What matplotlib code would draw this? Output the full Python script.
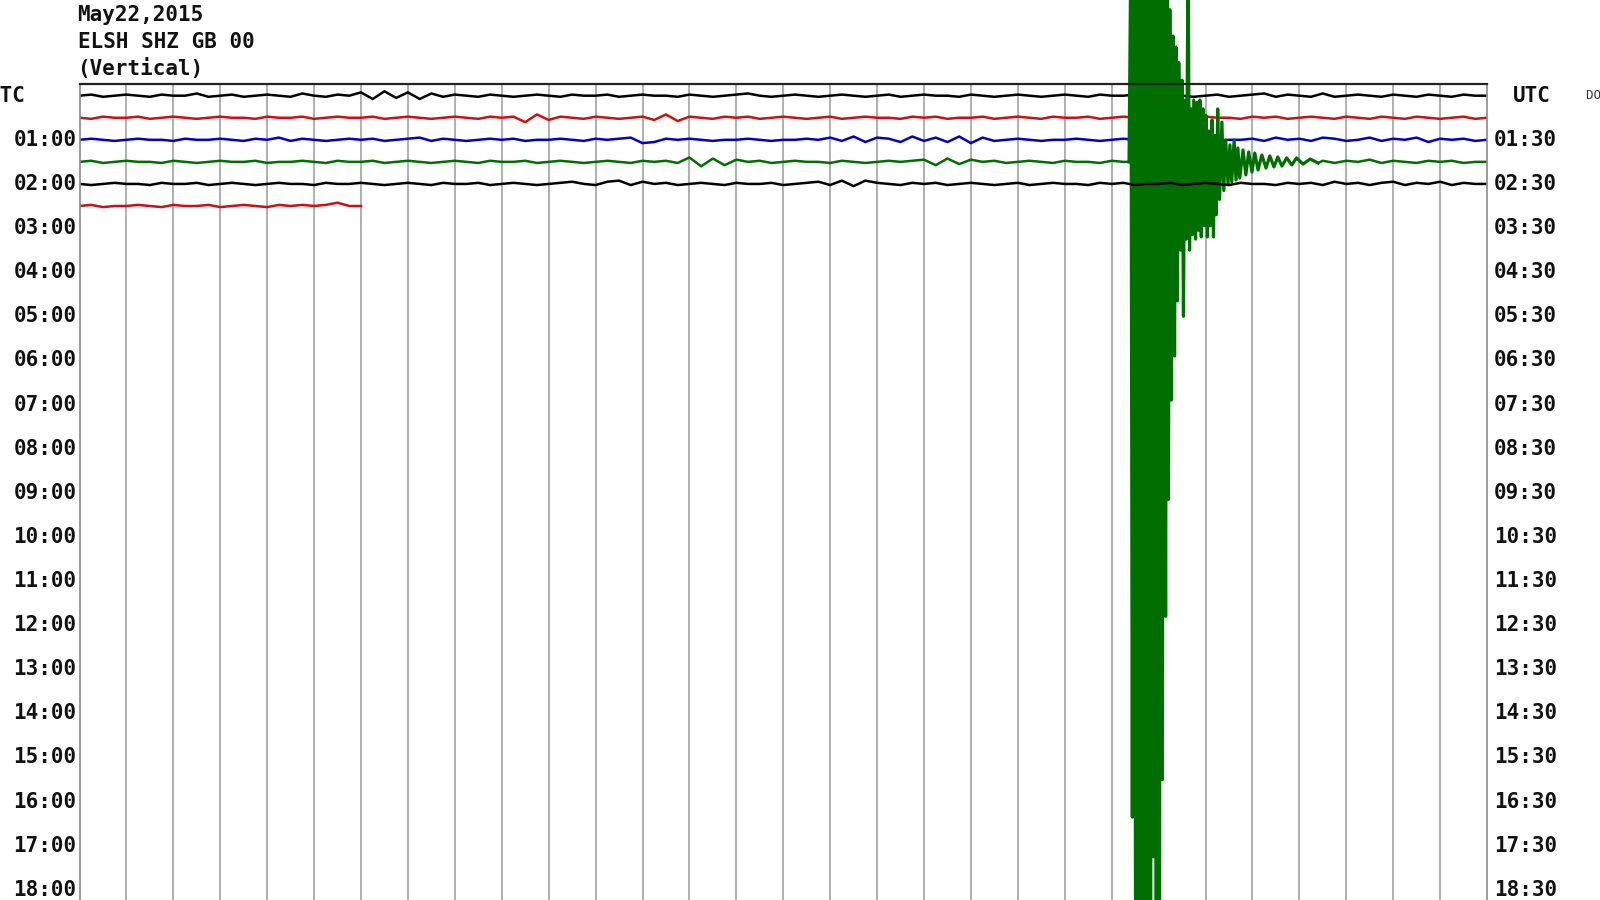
# Helicorder page: ELSH SHZ GB 00, May 22 2015
import numpy as np
import matplotlib
matplotlib.use("Agg")
import matplotlib.pyplot as plt
import matplotlib.transforms as mtransforms

# trace noise, one value every 0.25 min, units of 0.05 row height (positive = up)
SCALE = 0.05
STEP = 0.25

ROW0 = [0, 1, -1, 0, 1, 0, -1, 1, 0, 0, 2, -1, 0, 1, -1, 0, 1, 0, -1, 2, 0, -1, 1, 0,
        3, -3, 4, -2, 3, -3, 2, -1,
        1, 0, -1, 1, 0, -1, 0, 1, 0, -1, 1, 0, 0, 1, -1, 0,
        1, 0, 0, -1, 1, 0, -1, 0, 1, 2, 0, -1, 0, 1, 0, -1,
        0, 1, 0, -1, 0, 1, -1, 0, 1, 0, 0, -1, 1, 0, -1, 0,
        1, 0, -1, 0, 1, 0, -1, 1, 0, 0, 1, -1, 0, 1, 0, -1,
        0, 1, -1, 0, 1, 2, -1, 1, 0, -1, 2, -1, 0, 1, 0, -1,
        1, 0, -1, 1, 0, -1, 1, 0, 0]

ROW1 = [0, -1, 1, 0, 0, 1, -1, 0, 1, 0, -1, 0, 1, 0, 0, -1, 1, 0, 0, 1, -1, 0, 1, 0,
        0, 1, -1, 0, 1, 0, -1, 0, 1, 0, -1, 1, 0, 1,
        -4, 3, -2,
        1, 0, -1, 1, 0, -1, 0, 1,
        -2, 3, -3, 1,
        0, -1, 1, 0, 1, -1, 0, 1, 0, -1, 0, 1, -1, 0, 1, 0, 0, -1, 1, 0, 1, -1, 0, 0, 1, -1, 0, 1,
        0, -1, 1, 0, 0, 1, -1, 0, 1, 0, -1, 0, 1, 0, -1, 1, 0, 0, -1, 1,
        0, 1, -1, 0, 1, 0, -1, 1, 0, -1, 1, 0, -1, 1, 0, -1, 0, 1, -1, 0]

ROW2 = [0, 1, 0, -1, 0, 1, 0, 0, -1, 1, 0, 0, 1, 0, -1, 1, 0, 2, -1, 1, 0, -1, 0, 1,
        0, 1, -1, 0, 1, 2, -1, 1, 0, -1, 0, 1, 0, 1, -1, 0, 0, 1, 0, -1, 1, 0, 1,
        2, -3, -2, 1,
        0, 1, 0, -1, 0, 0, 1, 0, -1, 0, 0, 1, 0,
        2, -1, 3, -2, 2, 1, -2, 3, -1, 2, -2, 3, -3, 2, -1,
        0, 1, 0, -1, 0, 0, 1, 0, -1, 0, 1, 0, 0, -1, 1, 0, 0, 1, -1, 0, 0,
        1, -1, 2, 0, 1, -1, 2, 1, -1, 0, 2, -1, 1, 0, 2, -2, 1, 0, 1, -1, 0]

# green row: noise before the event (0 - 22.25 min), the event itself, noise after
ROW3_PRE = [0, 1, -1, 0, 1, 0, 0, -1, 1, 0, -1, 0, 1, 0, 0, 1, -1, 0, 0, 1, 0, -1, 1, 0,
            0, 1, -1, 0, 1, 0, -1, 0, 1, 0, -1, 1, 0, 0, 1, -1, 0, 1, 0, -1, 0, 1, 0, -1, 1, 0, 1, -1,
            4, -4, 3, -3, 2,
            0, 1, -1, 0, 1, 0, 0, -1, 1, 0, -1, 0, 1, 0, 1,
            2, -3, 3, -2, 2,
            0, 1, -1, 0, 1, 0, -1, 1, 0, 0, -1, 1, 0]
ROW3_POST_START = 26.5
ROW3_POST = [1, -1, 1, 0, 2, -1, 1, 0, -1, 1, 0, 1, -1, 0, 0]

# earthquake: turning points (minute, amplitude in row heights)
EVENT_T = [22.37, 22.41, 22.44, 22.47, 22.51, 22.54, 22.57, 22.60, 22.63, 22.67, 22.70,
           22.73, 22.76, 22.79, 22.83, 22.86, 22.89, 22.92, 22.95, 22.99, 23.02, 23.05,
           23.08, 23.11, 23.15, 23.18, 23.21, 23.24, 23.27, 23.31, 23.34, 23.37, 23.40,
           23.43, 23.47, 23.50, 23.53, 23.56, 23.59, 23.63, 23.66, 23.69, 23.72, 23.75,
           23.79, 23.82, 23.85, 23.88, 23.91, 23.95, 23.98, 24.01, 24.04, 24.07, 24.10,
           24.14, 24.17, 24.20, 24.23, 24.26, 24.30, 24.35, 24.39, 24.43, 24.48, 24.52,
           24.56, 24.61, 24.65, 24.69, 24.73, 24.80, 24.86, 24.92, 24.99, 25.05, 25.12,
           25.20, 25.29, 25.37, 25.46, 25.54, 25.63, 25.73, 25.84, 25.94, 26.08, 26.23,
           26.40]
EVENT_A = [0.0, 10.0, -29.7, 10.0, -36.0, 10.0, -36.0, 10.0, -36.0, 10.0, -36.0,
           10.0, -36.0, 10.0, -36.0, 10.0, -31.5, 10.0, -36.0, 10.0, -34.0, 10.0,
           -28.0, 10.0, -20.6, 8.2, -15.3, 6.9, -10.8, 5.7, -8.8, 5.2, -6.3,
           4.5, -4.0, 3.7, -7.0, 2.8, -3.5, 10.0, -4.0, 2.4, -3.3, 2.8,
           -3.5, 2.7, -3.1, 2.8, -3.4, 2.4, -2.9, 2.1, -3.4, 1.4, -2.9,
           1.9, -3.4, 1.2, -2.4, 2.4, -1.7, 1.8, -1.3, 1.0, -1.0, 0.77,
           -0.91, 1.0, -0.82, 0.63, -0.73, 0.54, -0.59, 0.45, -0.46, 0.40, -0.37,
           0.31, -0.28, 0.27, -0.23, 0.22, -0.19, 0.18, -0.14, 0.18, -0.10, 0.13,
           -0.05]

ROW4 = [0, -1, 0, 1, 0, 0, -1, 1, 0, 0, 1, -1, 0, 1, 0, -1, 0, 1, 0, 0, -1, 1, 0, 0,
        1, 0, -1, 0, 1, 0, -1, 1, 0, 0, 1, -1, 0, 1, 0, -1, 0, 1, 2, 0, -1,
        2, 3, -1, 2,
        0, 1, -1, 0, 1, 0, -1, 1, 0, 0, 1, -1, 0, 1, 2, -1,
        3, -2, 3, 1,
        0, -1, 1, 0, 1, -1, 0, 1, 0, -1, 0, 1, -1, 0, 1, 0, 0, -1, 1, 0, 1, -1, 0, 0, 1, -1, 0, 1,
        0, -1, 1, 0, 0, -1, 1, 0,
        1, -1, 2, 0, 1, -1, 1, 2, -1, 1, 0, 2, -1, 1, 0, 0]

ROW5 = [0, 1, -1, 0, 0, 1, 0, -1, 1, 0, 0, 1, -1, 0, 1, 0, -1, 1, 0, 1, 0, 1, 3, 0, 0]

ROW_COLORS = ["#000000", "#d01010", "#0000c8", "#006e00", "#000000", "#d01010"]

TITLE_LINES = ["May22,2015", "ELSH SHZ GB 00", "(Vertical)"]
N_ROWS = 37

FONT = dict(family="DejaVu Sans Mono", weight="bold", fontsize=15, color="#111111")

fig = plt.figure(figsize=(16, 9), dpi=100)
fig.patch.set_facecolor("white")
ax = fig.add_axes([79.5 / 1600, 0, (1487 - 79.5) / 1600, (900 - 84) / 900])
ax.set_xlim(0, 30)
ax.set_ylim(36.46, -0.53)
ax.set_xticks([])
ax.set_yticks([])
ax.spines["bottom"].set_visible(False)
ax.spines["top"].set_color("#222222")
ax.spines["top"].set_linewidth(1.6)
for side in ["left", "right"]:
    ax.spines[side].set_color("#8a8a8a")
    ax.spines[side].set_linewidth(1.2)

# one-minute grid
for m in range(1, 30):
    ax.axvline(m, color="#9a9a9a", lw=1.1, zorder=1)

rows = [ROW0, ROW1, ROW2, None, ROW4, ROW5]
for i, vals in enumerate(rows):
    if vals is None:
        # quiet parts thin, the event itself thicker so the big swings fill in
        t_pre = np.arange(len(ROW3_PRE)) * STEP
        t_post = ROW3_POST_START + np.arange(len(ROW3_POST)) * STEP
        a_pre = np.array(ROW3_PRE) * SCALE
        a_post = np.array(ROW3_POST) * SCALE
        ax.plot(np.append(t_pre, EVENT_T[0]), i - np.append(a_pre, EVENT_A[0]),
                color=ROW_COLORS[i], lw=1.8, zorder=2)
        ax.plot(EVENT_T, i - np.array(EVENT_A), color=ROW_COLORS[i], lw=2.3,
                zorder=2, clip_on=False)
        ax.plot(np.insert(t_post, 0, EVENT_T[-1]), i - np.insert(a_post, 0, EVENT_A[-1]),
                color=ROW_COLORS[i], lw=1.8, zorder=2)
    else:
        t = np.arange(len(vals)) * STEP
        ax.plot(t, i - np.array(vals) * SCALE, color=ROW_COLORS[i], lw=1.8, zorder=2)

# time labels
left_tr = mtransforms.blended_transform_factory(fig.transFigure, ax.transData)
for k in range(2, N_ROWS, 2):
    fig.text(76.5 / 1600, k, f"{k // 2:02d}:00", ha="right", va="center",
             transform=left_tr, **FONT)
    fig.text(1494 / 1600, k, f"{k // 2:02d}:30", ha="left", va="center",
             transform=left_tr, **FONT)
fig.text(25.5 / 1600, 0, "UTC", ha="right", va="center", transform=left_tr, **FONT)
fig.text(1513 / 1600, 0, "UTC", ha="left", va="center", transform=left_tr, **FONT)
fig.text(1586 / 1600, 0, "DOY 142", ha="left", va="center", transform=left_tr,
         family="DejaVu Sans Mono", fontsize=9, color="#333333")

# header
for j, line in enumerate(TITLE_LINES):
    fig.text(77.5 / 1600, 1 - (15.3 + 26.5 * j) / 900, line, ha="left", va="center", **FONT)

fig.savefig("out.png", dpi=100)
